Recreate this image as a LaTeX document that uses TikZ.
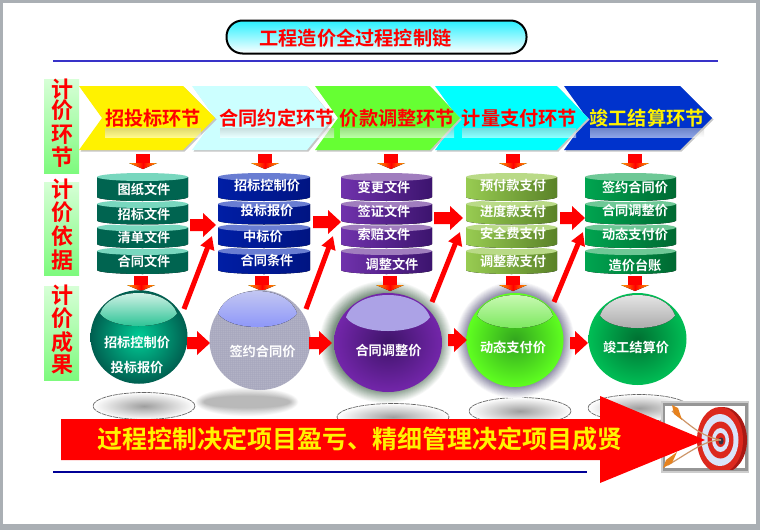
\documentclass[tikz,border=0pt]{standalone}
\usepackage{fontspec}
\setmainfont{Noto Sans CJK SC}[BoldFont={Noto Sans CJK SC Bold}]
\usetikzlibrary{patterns,arrows.meta,shapes.geometric}
\newcommand{\dc}[4]{\definecolor{#1}{RGB}{#2,#3,#4}}
\dc{rd}{255}{0}{0}
\dc{pagegray}{170}{175}{180}
\dc{tline}{56}{50}{200}\dc{bline}{0}{0}{150}
\dc{bandt}{215}{255}{215}\dc{bandb}{125}{250}{125}
\dc{cvblue}{0}{51}{204}\dc{cvgreen}{102}{255}{51}\dc{cvpale}{204}{255}{255}\dc{cvcyan}{0}{255}{255}\dc{titlecy}{40}{240}{255}
\dc{orng}{255}{165}{0}
\dc{aL}{0}{100}{80}\dc{aM}{0}{200}{150}\dc{aR}{0}{100}{80}\dc{aT}{120}{215}{190}
\dc{bL}{0}{30}{165}\dc{bM}{0}{40}{210}\dc{bR}{0}{20}{130}\dc{bT}{105}{125}{210}
\dc{cL}{112}{50}{172}\dc{cM}{90}{36}{150}\dc{cR}{60}{20}{110}\dc{cT}{160}{125}{190}
\dc{dL}{152}{204}{82}\dc{dM}{130}{180}{65}\dc{dR}{90}{130}{40}\dc{dT}{185}{218}{135}
\dc{eL}{0}{165}{80}\dc{eM}{0}{175}{85}\dc{eR}{0}{105}{50}\dc{eT}{110}{200}{150}
\dc{glowA}{125}{148}{130}\dc{glowB}{140}{138}{165}
\dc{softg}{185}{185}{185}
\dc{s1i}{0}{205}{150}\dc{s1o}{0}{95}{80}
\dc{s2f}{168}{168}{190}\dc{s2g}{205}{205}{215}
\dc{s3i}{62}{20}{105}\dc{s3o}{115}{38}{170}
\dc{s4i}{50}{165}{30}\dc{s4o}{95}{255}{32}
\dc{s5i}{0}{112}{50}\dc{s5o}{0}{190}{85}
\dc{h1t}{240}{250}{245}\dc{h1b}{25}{190}{140}
\dc{h2t}{205}{208}{240}\dc{h2b}{135}{145}{250}
\dc{h3}{172}{162}{230}
\dc{h4t}{215}{252}{195}\dc{h4b}{115}{230}{85}
\dc{h5t}{240}{240}{240}\dc{h5b}{165}{165}{165}
\dc{tgA}{170}{25}{20}\dc{tgR}{220}{40}{30}\dc{tgW}{218}{228}{250}\dc{tgC}{50}{50}{70}
\dc{shaft}{205}{150}{105}\dc{fletch}{230}{130}{30}
\dc{frameA}{150}{150}{150}\dc{frameB}{205}{205}{205}
\tikzset{
 lab/.style={font=\bfseries\fontsize{13.2}{14}\selectfont,text=white,inner sep=0pt},
 stage/.style={font=\bfseries\fontsize{19.2}{20}\selectfont,inner sep=0pt},
 side/.style={font=\bfseries\fontsize{22}{24}\selectfont,text=rd,inner sep=0pt},
 blockarrow/.style={fill=rd,draw=none},
 diag/.style={draw=rd,line width=5pt,-{Triangle[width=14pt,length=13pt]}},
}
\newcommand{\chev}[5]{%
 \fill[gray!45] (#1+1.5,87.5) -- (#3+1.5,87.5) -- (#4+1.5,119.5) -- (#3+1.5,151.5) -- (#1+1.5,151.5) -- (#2+1.5,119.5) -- cycle;
 \fill[#5] (#1,86) -- (#3,86) -- (#4,118) -- (#3,150) -- (#1,150) -- (#2,118) -- cycle;}
\newcommand{\darrow}[2]{%
 \fill[rd] (#1-7,#2) rectangle (#1+7,#2+9);
 \fill[left color=orng,right color=orng,middle color=rd] (#1-14,#2+9) -- (#1+14,#2+9) -- (#1,#2+15) -- cycle;}
% x0 x1 top bottom; colour prefix a..e
\newcommand{\layer}[5]{%
 \fill[white] (#1,#3+4) -- (#1,#4-4) arc[start angle=180,end angle=0,x radius={(#2-#1)/2},y radius=4] -- (#2,#3+4) -- cycle;
 \fill[left color=#5L,middle color=#5M,right color=#5R] (#1,#3+4) -- (#1,#4-5) arc[start angle=180,end angle=0,x radius={(#2-#1)/2},y radius=4] -- (#2,#3+4) -- cycle;
 \fill[#5T] ({(#1+#2)/2},#3+4) ellipse[x radius={(#2-#1)/2},y radius=4];}
\newcommand{\stackcyl}[3]{%
 \layer{#1}{#2}{247}{275}{#3}
 \layer{#1}{#2}{223.5}{249}{#3}
 \layer{#1}{#2}{200}{225.5}{#3}
 \layer{#1}{#2}{173}{202}{#3}}
\newcommand{\hblock}[3]{%
 \fill[blockarrow] (#1,#3-6) -- (#2-13,#3-6) -- (#2-13,#3-12) -- (#2,#3) -- (#2-13,#3+12) -- (#2-13,#3+6) -- (#1,#3+6) -- cycle;}
\newcommand{\shadowell}[3]{%
 \shade[inner color=black!38,outer color=white] (#1,#2) ellipse[x radius=#3,y radius=13.5];
 \draw[gray!80!black,line width=.7pt,dash pattern=on 5pt off .8pt] (#1,#2) ellipse[x radius=#3,y radius=13.5];}
\newcommand{\lbl}[3]{\node[lab] at (#1,#2) {#3};}
\newcommand{\gloss}[5]{%
 \fill[#5] (#1,{#3+.62*(#4-#3)}) .. controls (#1+.12*#2-.12*#1,{#3-.62*(#4-#3)/3}) and (#2-.12*#2+.12*#1,{#3-.62*(#4-#3)/3}) .. (#2,{#3+.62*(#4-#3)})
  .. controls (#2-.15*#2+.15*#1,{#4+.38*(#4-#3)/3}) and (#1+.15*#2-.15*#1,{#4+.38*(#4-#3)/3}) .. cycle;}
\newcommand{\halo}[6]{%
 \foreach \i in {1,...,14}{%
  \pgfmathsetmacro{\mixp}{100*\i/14}%
  \fill[#6!\mixp!white] (#1,#2) ellipse[x radius={#3+#5*(1-\i/14)},y radius={#4+#5*(1-\i/14)}];}}
\pgfdeclarepatternformonly{finegrid}{\pgfpointorigin}{\pgfqpoint{2.2pt}{2.2pt}}{\pgfqpoint{2.2pt}{2.2pt}}{%
 \pgfsetlinewidth{.55pt}
 \pgfpathmoveto{\pgfqpoint{0pt}{0pt}}\pgfpathlineto{\pgfqpoint{2.2pt}{0pt}}
 \pgfpathmoveto{\pgfqpoint{0pt}{0pt}}\pgfpathlineto{\pgfqpoint{0pt}{2.2pt}}\pgfusepath{stroke}}
\begin{document}
\begin{tikzpicture}[x=1pt,y=-1pt]
\useasboundingbox (0,0) rectangle (760,530);
\fill[pagegray] (0,0) rectangle (760,530);
\fill[white] (3,3) rectangle (756,524);
% title
\node[draw=black,line width=2pt,rounded corners=16pt,minimum width=300pt,minimum height=33pt,top color=titlecy,bottom color=white,inner sep=0pt] (title) at (376.5,37) {};
\node[font=\bfseries\fontsize{19.2}{20}\selectfont,text=rd,inner sep=0pt] (titletext) at (355.5,38) {工程造价全过程控制链};
\coordinate (tl1) at (53,61); \coordinate (tl2) at (718,61);
\draw[line width=2.4pt,draw=tline] (tl1) -- (tl2);
% left side bands
\fill[top color=bandt,bottom color=bandb] (44,79) rectangle (79,173);
\fill[top color=bandt,bottom color=bandb] (44,182) rectangle (79,275);
\fill[top color=bandt,bottom color=bandb] (44,286) rectangle (79,380);
\node[side] at (62,89) {计};\node[side] at (62,110) {价};\node[side] at (62,135) {环};\node[side] at (62,157) {节};
\node[side] at (62,189) {计};\node[side] at (62,212) {价};\node[side] at (62,236) {依};\node[side] at (62,260) {据};
\node[side] at (62,295) {计};\node[side] at (62,318) {价};\node[side] at (62,342) {成};\node[side] at (62,365) {果};
% chevrons
\chev{564}{587}{680}{712}{cvblue}
\chev{435}{458}{557}{588}{cvcyan}
\chev{315}{338}{430}{460}{cvgreen}
\chev{192}{215}{307}{333}{cvpale}
\chev{79}{102}{183}{215}{yellow}
\foreach \x/\w in {153/96,277/114,397/114,519/114,647/114}
 \shade[top color=black!22,bottom color=black!0,opacity=.55] (\x-\w/2,128) rectangle (\x+\w/2,137);
\node[stage,text=rd] (s1) at (153,118) {招投标环节};
\node[stage,text=rd] (s2) at (277,118) {合同约定环节};
\node[stage,text=rd] (s3) at (397.5,118) {价款调整环节};
\node[stage,text=rd] (s4) at (519.5,118) {计量支付环节};
\node[stage,text=yellow] (s5) at (647,118) {竣工结算环节};
% shadows beneath spheres
\shadowell{144}{406}{51}
\halo{247}{402}{43}{6}{9}{softg}
\shadowell{393}{417}{56}
\shadowell{520}{411}{51}
\shadowell{639}{408}{51}
% glows
\halo{386}{342}{54}{49}{13}{glowA}
\halo{515}{340}{48}{47}{12}{glowB}
% small arrows above the stacks
\foreach \x in {143,265,391,513,635} {\darrow{\x}{154}}
% cylinders
\stackcyl{97}{188}{a}
\stackcyl{218}{310}{b}
\stackcyl{341}{432}{c}
\stackcyl{466}{557}{d}
\stackcyl{585}{676}{e}
\lbl{144}{189}{图纸文件}\lbl{144}{214}{招标文件}\lbl{144}{237}{清单文件}\lbl{144}{261}{合同文件}
\lbl{267}{186}{招标控制价}\lbl{267}{211}{投标报价}\lbl{263}{237}{中标价}\lbl{267}{260}{合同条件}
\lbl{384}{187}{变更文件}\lbl{384}{211}{签证文件}\lbl{384}{234}{索赔文件}\lbl{392}{264}{调整文件}
\lbl{513}{186}{预付款支付}\lbl{513}{211}{进度款支付}\lbl{513}{233}{安全费支付}\lbl{513}{262}{调整款支付}
\lbl{635}{187}{签约合同价}\lbl{635}{211}{合同调整价}\lbl{635}{234}{动态支付价}\lbl{635}{265}{造价台账}
% small arrows below the stacks
\foreach \x in {141,262,390,513,635} {\darrow{\x}{276}}
% spheres
\node[ellipse,minimum width=97pt,minimum height=93.5pt,inner sep=0pt,inner color=s1i,outer color=s1o] (b1) at (139,337) {};
\node[ellipse,minimum width=101pt,minimum height=100pt,inner sep=0pt,fill=s2f] (b2) at (260,340) {};
\fill[pattern=finegrid,pattern color=s2g] (260,340) ellipse[x radius=50.5,y radius=50];
\node[ellipse,minimum width=108pt,minimum height=99pt,inner sep=0pt,inner color=s3i,outer color=s3o] (b3) at (388,342.5) {};
\node[ellipse,minimum width=97pt,minimum height=94pt,inner sep=0pt,inner color=s4i,outer color=s4o] (b4) at (515,340) {};
\node[ellipse,minimum width=98pt,minimum height=92pt,inner sep=0pt,inner color=s5i,outer color=s5o] (b5) at (637.5,339) {};
% glossy highlights
\gloss{100}{177}{293}{326}{top color=h1t,bottom color=h1b}
\gloss{218}{297}{291}{327}{top color=h2t,bottom color=h2b}
\gloss{346}{430}{295}{331}{h3}
\gloss{477}{553}{295}{328}{top color=h4t,bottom color=h4b}
\gloss{600}{675}{295}{328}{top color=h5t,bottom color=h5b}
\lbl{137}{343}{招标控制价}
\lbl{137}{368}{投标报价}
\lbl{262.5}{351}{签约合同价}
\lbl{388.5}{351}{合同调整价}
\lbl{513}{347}{动态支付价}
\lbl{636}{347}{竣工结算价}
% block arrows
\hblock{190}{216}{225}
\hblock{313}{341}{222}
\hblock{434}{463}{218}
\hblock{560}{585}{218}
\hblock{187}{210}{343}
\hblock{309}{332}{343}
\hblock{448}{467}{340}
\hblock{570}{588}{343}
% diagonal arrows
\coordinate (d1a) at (184,309); \coordinate (d1b) at (212,236);
\coordinate (d2a) at (306,309); \coordinate (d2b) at (333,236);
\coordinate (d3a) at (432,302); \coordinate (d3b) at (460,232);
\coordinate (d4a) at (554,302); \coordinate (d4b) at (583,232);
\draw[diag] (d1a) -- (d1b);
\draw[diag] (d2a) -- (d2b);
\draw[diag] (d3a) -- (d3b);
\draw[diag] (d4a) -- (d4b);
% target picture
\fill[frameB] (661,401) rectangle (749,473);
\fill[frameA] (662.5,403) rectangle (747.5,471);
\fill[white] (665,406) rectangle (745,468);
\begin{scope}
\clip (664,405) rectangle (747,469);
\fill[tgA] (723,440) ellipse[x radius=24,y radius=33];
\fill[tgR] (720,440) ellipse[x radius=23,y radius=33];
\fill[tgW] (720,440) ellipse[x radius=18.5,y radius=26];
\fill[tgR] (720.5,440) ellipse[x radius=13,y radius=18.5];
\fill[tgW] (720.5,440) ellipse[x radius=8.5,y radius=12];
\fill[tgR] (720.5,440) ellipse[x radius=5,y radius=7];
\fill[tgC] (721,441) ellipse[x radius=2.5,y radius=3.5];
\end{scope}
% big arrow
\fill[rd] (61,419) -- (600,419) -- (600,396) -- (705,440) -- (600,483) -- (600,460) -- (61,460) -- cycle;
\node[inner sep=0pt,font=\bfseries\fontsize{25}{26}\selectfont,text=yellow] (banner) at (360,439) {过程控制决定项目盈亏、精细管理决定项目成贤};
% arrows stuck in the target
\draw[line width=1.2pt,shaft] (721,440) .. controls (700,436) and (690,425) .. (672,411);
\draw[line width=1.2pt,shaft] (721,440) .. controls (705,440) and (690,452) .. (668,465);
\fill[fletch] (672,405) -- (678,408) -- (682,420) -- (674,414) -- cycle;
\fill[fletch] (663,468) -- (666,460) -- (677,452) -- (672,463) -- cycle;
% bottom line
\coordinate (bl1) at (53,472); \coordinate (bl2) at (587,472);
\draw[line width=1.8pt,draw=bline] (bl1) -- (bl2);
\end{tikzpicture}
\end{document}
